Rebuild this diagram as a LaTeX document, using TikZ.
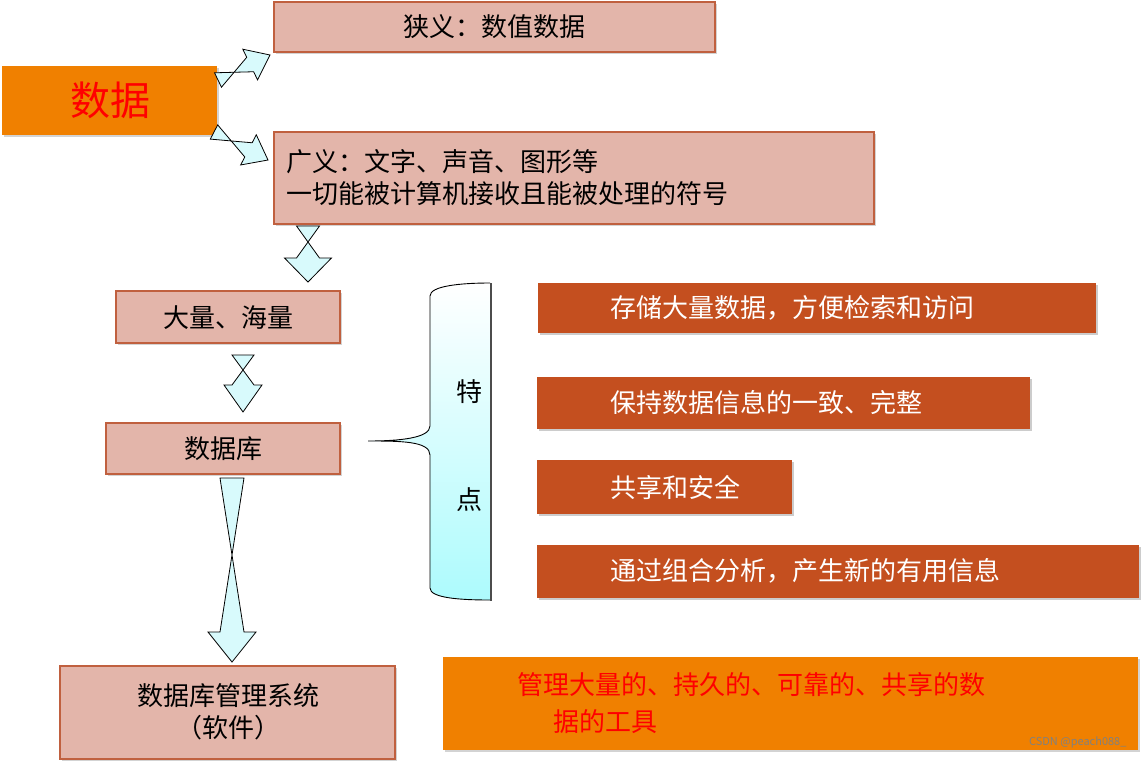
\documentclass[tikz,border=0pt]{standalone}
\usepackage{fontspec}
\setmainfont{Noto Sans CJK SC}
\usetikzlibrary{calc,shadows}
\definecolor{pinkf}{HTML}{E3B5AA}
\definecolor{pinkd}{HTML}{C0603F}
\definecolor{rustf}{HTML}{C44F1F}
\definecolor{orng}{HTML}{F08000}
\definecolor{cyanf}{HTML}{D8FAFC}
\tikzset{
  pbox/.style={draw=pinkd,line width=1.2pt,fill=pinkf,drop shadow={shadow xshift=2pt,shadow yshift=-2pt,opacity=.35}},
  rbox/.style={fill=rustf,drop shadow={shadow xshift=2pt,shadow yshift=-2pt,opacity=.4}},
  obox/.style={fill=orng,drop shadow={shadow xshift=2pt,shadow yshift=-2pt,opacity=.35}},
  barr/.style={draw=black,line width=.8pt,fill=cyanf,line join=miter},
  t/.style={font=\fontsize{26}{32}\selectfont,inner sep=0pt},
  wt/.style={t,text=white,anchor=west},
}
\newcommand\blockarr[5]{% A B shaft-half head-half head-len
  \coordinate (pA) at #1; \coordinate (pB) at #2;
  \coordinate (pH) at ($(pB)!#5!(pA)$);
  \draw[barr] ($(pA)!#3!90:(pB)$) -- ($(pH)!#3!-90:(pB)$) -- ($(pH)!#4!-90:(pB)$) -- (pB)
     -- ($(pH)!#4!90:(pB)$) -- ($(pH)!#3!90:(pB)$) -- ($(pA)!#3!-90:(pB)$) -- cycle;}
\begin{document}
\begin{tikzpicture}[x=1pt,y=-1pt]
\useasboundingbox (0,0) rectangle (1145,761);
% boxes
\draw[pbox] (274,2) rectangle (715,52);
\node[t] (narrow) at (494.5,27) {狭义：数值数据};
\fill[obox] (2,66) rectangle (217,135);
\node[t,font=\fontsize{40}{44}\selectfont,text=red] (data) at (110,100) {数据};
\draw[pbox] (274,132) rectangle (874,224);
\node[t,anchor=west,align=left] (broad) at (286,178) {广义：文字、声音、图形等\\一切能被计算机接收且能被处理的符号};
\draw[pbox] (116,291) rectangle (340,343);
\node[t] (mass) at (228,318) {大量、海量};
\draw[pbox] (106,423) rectangle (340,474);
\node[t] (db) at (223,449) {数据库};
\draw[pbox] (60,666) rectangle (395,759);
\node[t,align=center] (dbms) at (228,712) {数据库管理系统\\（软件）};
% red feature boxes
\fill[rbox] (538,283) rectangle (1096,333);
\node[wt] (f1) at (610,308) {存储大量数据，方便检索和访问};
\fill[rbox] (537,377) rectangle (1030,429);
\node[wt] (f2) at (610,403) {保持数据信息的一致、完整};
\fill[rbox] (537,460) rectangle (792,514);
\node[wt] (f3) at (610,487) {共享和安全};
\fill[rbox] (537,545) rectangle (1139,598);
\node[wt] (f4) at (610,571) {通过组合分析，产生新的有用信息};
% bottom orange
\fill[obox] (443,657) rectangle (1138,750);
\node[t,anchor=west,text=red] (def1) at (517,685) {管理大量的、持久的、可靠的、共享的数};
\node[t,anchor=west,text=red] (def2) at (553,722) {据的工具};
% brace
\shade[top color=white,bottom color=cyanf!80!cyan] (430,296) .. controls (430,286) and (460,283) .. (490,283) -- (490,600) .. controls (460,600) and (430,598) .. (430,588) -- (430,455) .. controls (430,441) and (400,441) .. (368,441) .. controls (400,441) and (430,438) .. (430,426) -- cycle;
\draw[line width=.9pt] (490,283) .. controls (460,283) and (430,286) .. (430,296) -- (430,426) .. controls (430,438) and (400,441) .. (368,441) .. controls (400,441) and (430,441) .. (430,455) -- (430,588) .. controls (430,598) and (460,600) .. (490,600);
\draw[line width=1.5pt,black!70] (491,283) -- (491,601);
\node[t] (te) at (469,392) {特};
\node[t] (dian) at (469,500) {点};
% block arrows
\blockarr{(218,80)}{(270,55)}{8pt}{17pt}{22pt}
\blockarr{(214,132)}{(268,160)}{8pt}{17pt}{22pt}
\blockarr{(308,226)}{(308,282)}{11.5pt}{23.5pt}{24pt}
\blockarr{(243,355)}{(243,412)}{11pt}{19pt}{27pt}
\blockarr{(232,478)}{(232,662)}{12pt}{24pt}{30pt}
\node[font=\fontsize{11}{12}\selectfont,text=gray,anchor=east] (wm) at (1130,742) {CSDN @peach088\_};
\end{tikzpicture}
\end{document}
